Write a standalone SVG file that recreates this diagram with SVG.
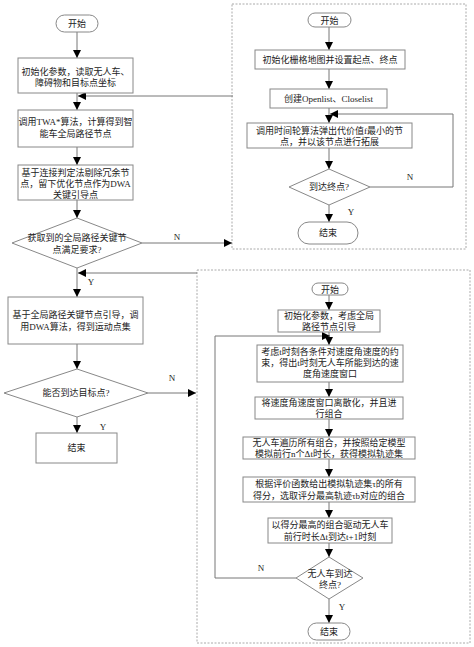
<svg xmlns="http://www.w3.org/2000/svg" width="474" height="647" viewBox="0 0 474 647">
<style>
.b{fill:#fff;stroke:#888;stroke-width:1}
.d{fill:none;stroke:#aaa;stroke-width:1;stroke-dasharray:2,1.5}
.c{fill:none;stroke:#777;stroke-width:1}
text{font-family:"Liberation Serif","Noto Sans CJK SC",serif;font-size:9px;fill:#222;text-anchor:middle}
.l{font-size:9px}
</style>
<defs>
<marker id="a" markerUnits="userSpaceOnUse" markerWidth="8" markerHeight="8" viewBox="0 0 8 8" refX="8" refY="4" orient="auto">
<path d="M0,0 L8,4 L0,8 Z" fill="#000"/>
</marker>
</defs>
<rect class="b" x="0" y="0" width="474" height="647" style="stroke:none"/>
<g id="frames">
<rect class="d" x="232" y="4" width="234" height="245"/>
<rect class="d" x="197" y="270" width="273" height="373"/>
</g>
<g id="connectors">
<path class="c" d="M77,32V58" marker-end="url(#a)"/>
<path class="c" d="M77,93V110" marker-end="url(#a)"/>
<path class="c" d="M233,96H78" marker-end="url(#a)"/>
<path class="c" d="M77,147V165" marker-end="url(#a)"/>
<path class="c" d="M77,200V218" marker-end="url(#a)"/>
<path class="c" d="M142,243H232" marker-end="url(#a)"/>
<path class="c" d="M77,268V297" marker-end="url(#a)"/>
<path class="c" d="M197,273H78" marker-end="url(#a)"/>
<path class="c" d="M77,344V369" marker-end="url(#a)"/>
<path class="c" d="M148,393H196" marker-end="url(#a)"/>
<path class="c" d="M77,417V433" marker-end="url(#a)"/>
<path class="c" d="M329,27V50" marker-end="url(#a)"/>
<path class="c" d="M329,69V89" marker-end="url(#a)"/>
<path class="c" d="M329,108V123" marker-end="url(#a)"/>
<path class="c" d="M370,187H453V114H330" marker-end="url(#a)"/>
<path class="c" d="M329,148V169" marker-end="url(#a)"/>
<path class="c" d="M329,205V222" marker-end="url(#a)"/>
<path class="c" d="M329,295V310" marker-end="url(#a)"/>
<path class="c" d="M329,332V345" marker-end="url(#a)"/>
<path class="c" d="M296,578H215V336H330" marker-end="url(#a)"/>
<path class="c" d="M329,382V397" marker-end="url(#a)"/>
<path class="c" d="M329,419V437" marker-end="url(#a)"/>
<path class="c" d="M329,459V477" marker-end="url(#a)"/>
<path class="c" d="M329,502V518" marker-end="url(#a)"/>
<path class="c" d="M329,543V557" marker-end="url(#a)"/>
<path class="c" d="M329,599V623" marker-end="url(#a)"/>
<text class="l" x="177" y="240">N</text>
<text class="l" x="91" y="285">Y</text>
<text class="l" x="172" y="381">N</text>
<text class="l" x="103" y="430">Y</text>
<text class="l" x="410" y="180">N</text>
<text class="l" x="351" y="215">Y</text>
<text class="l" x="261" y="571">N</text>
<text class="l" x="342" y="610">Y</text>
</g>
<g id="start1"><rect class="b" x="56" y="15" width="42" height="17" rx="8.5"/><text x="77" y="27">开始</text></g>
<g id="init1"><rect class="b" x="18" y="58" width="115" height="35"/><text x="75.5" y="75">初始化参数，读取无人车、</text><text x="75.5" y="86">障碍物和目标点坐标</text></g>
<g id="twa"><rect class="b" x="18" y="110" width="115" height="37"/><text x="75.5" y="125">调用TWA*算法，计算得到智</text><text x="75.5" y="137">能车全局路径节点</text></g>
<g id="prune"><rect class="b" x="18" y="165" width="115" height="35"/><text x="75.5" y="176">基于连接判定法剔除冗余节</text><text x="75.5" y="187">点，留下优化节点作为DWA</text><text x="75.5" y="198">关键引导点</text></g>
<g id="dec1"><path class="b" d="M77,218L142,243L77,268L12,243Z"/><text x="77" y="241">获取到的全局路径关键节</text><text x="77" y="253">点满足要求?</text></g>
<g id="dwa"><rect class="b" x="8" y="297" width="135" height="47"/><text x="75.5" y="318">基于全局路径关键节点引导，调</text><text x="75.5" y="330">用DWA算法，得到运动点集</text></g>
<g id="dec2"><path class="b" d="M77,369L148,393L77,417L4,393Z"/><text x="76" y="396">能否到达目标点?</text></g>
<g id="end1"><rect class="b" x="36" y="433" width="81" height="30"/><text x="76.5" y="451">结束</text></g>
<g id="start2"><rect class="b" x="308" y="13" width="43" height="14" rx="7"/><text x="329.5" y="23.5">开始</text></g>
<g id="grid"><rect class="b" x="255" y="50" width="150" height="19"/><text x="330" y="63">初始化栅格地图并设置起点、终点</text></g>
<g id="lists"><rect class="b" x="270" y="89" width="117" height="19"/><text x="328.5" y="102">创建Openlist、Closelist</text></g>
<g id="pop"><rect class="b" x="247" y="123" width="165" height="25"/><text x="329.5" y="133.5">调用时间轮算法弹出代价值f最小的节</text><text x="329.5" y="144.5">点，并以该节点进行拓展</text></g>
<g id="dec3"><path class="b" d="M329,169L370,187L329,205L289,187Z"/><text x="329" y="190">到达终点?</text></g>
<g id="end2"><rect class="b" x="298" y="222" width="60" height="22" rx="11"/><text x="328" y="236">结束</text></g>
<g id="start3"><rect class="b" x="312" y="283" width="36" height="12" rx="6"/><text x="330" y="292.5">开始</text></g>
<g id="init3"><rect class="b" x="278" y="310" width="102" height="22"/><text x="329" y="319">初始化参数，考虑全局</text><text x="329" y="329.5">路径节点引导</text></g>
<g id="window"><rect class="b" x="257" y="345" width="146" height="37"/><text x="330" y="355">考虑t时刻各条件对速度角速度的约</text><text x="330" y="366">束，得出t时刻无人车所能到达的速</text><text x="330" y="377">度角速度窗口</text></g>
<g id="discrete"><rect class="b" x="255" y="397" width="148" height="22"/><text x="329" y="406">将速度角速度窗口离散化，并且进</text><text x="329" y="416.5">行组合</text></g>
<g id="simulate"><rect class="b" x="243" y="437" width="172" height="22"/><text x="329" y="446">无人车遍历所有组合，并按照给定模型</text><text x="329" y="456.5">模拟前行n个Δt时长，获得模拟轨迹集</text></g>
<g id="evaluate"><rect class="b" x="243" y="477" width="172" height="25"/><text x="329" y="487">根据评价函数给出模拟轨迹集τ的所有</text><text x="329" y="498.5">得分，选取评分最高轨迹τb对应的组合</text></g>
<g id="drive"><rect class="b" x="268" y="518" width="124" height="25"/><text x="330" y="528">以得分最高的组合驱动无人车</text><text x="330" y="539.5">前行时长Δt到达t+1时刻</text></g>
<g id="dec4"><path class="b" d="M329,557L363,578L329,599L296,578Z"/><text x="330" y="577">无人车到达</text><text x="330" y="588">终点?</text></g>
<g id="end3"><rect class="b" x="308" y="623" width="42" height="17" rx="8.5"/><text x="329" y="635">结束</text></g>
</svg>
